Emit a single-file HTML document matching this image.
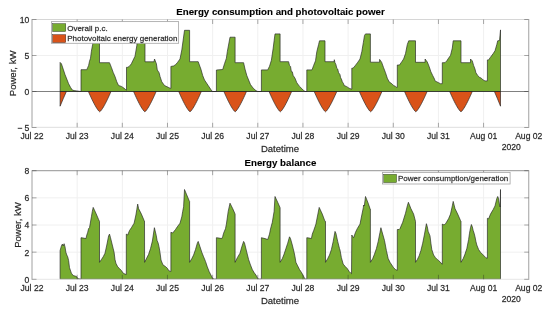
<!DOCTYPE html>
<html><head><meta charset="utf-8"><title>Energy plots</title>
<style>
html,body{margin:0;padding:0;background:#fff;width:550px;height:315px;overflow:hidden}
svg{display:block;filter:blur(0.3px)}
text{font-family:"Liberation Sans",Arial,sans-serif;fill:#262626;stroke:#262626;stroke-width:0.28px;stroke-opacity:0.7}
.tk{font-size:8.6px}
.lb{font-size:9.55px}
.ti{font-size:9.72px;font-weight:bold;fill:#000;stroke:#000;stroke-width:0.15px}
.lg{font-size:8.0px}
</style></head><body>
<svg width="550" height="315" viewBox="0 0 550 315">
<rect width="550" height="315" fill="#ffffff"/>
<text x="280.5" y="14.8" text-anchor="middle" class="ti">Energy consumption and photovoltaic power</text>
<text x="280.4" y="166.4" text-anchor="middle" class="ti">Energy balance</text>
<line x1="77.16" y1="19.5" x2="77.16" y2="127.3" stroke="#f0f0f0" stroke-width="1"/>
<line x1="122.32" y1="19.5" x2="122.32" y2="127.3" stroke="#f0f0f0" stroke-width="1"/>
<line x1="167.48" y1="19.5" x2="167.48" y2="127.3" stroke="#f0f0f0" stroke-width="1"/>
<line x1="212.64" y1="19.5" x2="212.64" y2="127.3" stroke="#f0f0f0" stroke-width="1"/>
<line x1="257.80" y1="19.5" x2="257.80" y2="127.3" stroke="#f0f0f0" stroke-width="1"/>
<line x1="302.95" y1="19.5" x2="302.95" y2="127.3" stroke="#f0f0f0" stroke-width="1"/>
<line x1="348.11" y1="19.5" x2="348.11" y2="127.3" stroke="#f0f0f0" stroke-width="1"/>
<line x1="393.27" y1="19.5" x2="393.27" y2="127.3" stroke="#f0f0f0" stroke-width="1"/>
<line x1="438.43" y1="19.5" x2="438.43" y2="127.3" stroke="#f0f0f0" stroke-width="1"/>
<line x1="483.59" y1="19.5" x2="483.59" y2="127.3" stroke="#f0f0f0" stroke-width="1"/>
<line x1="32.0" y1="91.50" x2="528.75" y2="91.50" stroke="#f0f0f0" stroke-width="1"/>
<line x1="32.0" y1="55.50" x2="528.75" y2="55.50" stroke="#f0f0f0" stroke-width="1"/>
<path d="M60.10,91.50 L60.10,62.40 L61.40,63.70 L63.20,69.10 L65.00,74.60 L66.80,79.10 L68.60,83.70 L70.50,87.30 L72.30,90.00 L74.10,90.60 L76.80,90.90 L80.50,91.50 L81.00,91.50 L81.00,69.70 L86.80,69.70 L87.70,67.50 L88.60,65.50 L89.50,61.20 L90.50,58.20 L91.40,51.20 L92.60,44.70 L93.50,33.20 L99.50,33.20 L99.50,62.70 L109.50,62.70 L111.40,67.40 L113.20,72.40 L115.00,76.50 L116.80,81.80 L118.60,85.50 L121.40,86.40 L124.10,88.20 L125.90,89.80 L126.50,90.20 L126.50,67.30 L127.70,67.30 L129.50,66.20 L131.40,63.70 L133.20,60.00 L135.00,56.20 L136.80,45.70 L137.70,35.20 L145.00,35.20 L145.00,61.80 L154.00,61.80 L154.50,59.00 L156.40,63.70 L157.30,70.00 L159.10,72.70 L160.00,76.40 L161.80,81.80 L164.50,85.50 L168.20,87.30 L170.00,88.20 L170.90,88.40 L170.90,66.40 L171.80,66.30 L173.60,65.90 L175.50,64.70 L177.30,62.70 L180.00,59.00 L181.80,49.90 L183.30,39.00 L184.50,30.30 L189.60,30.30 L189.60,61.70 L198.20,61.70 L200.90,69.10 L202.70,75.50 L204.50,80.00 L208.20,85.50 L211.80,90.90 L212.70,91.50 L216.40,91.50 L216.40,70.00 L222.70,69.50 L224.50,63.70 L225.50,60.80 L226.40,58.20 L227.30,51.70 L230.00,37.20 L235.10,37.20 L235.10,62.70 L243.60,62.70 L245.00,69.10 L246.80,75.50 L248.60,80.00 L250.50,84.60 L253.20,88.20 L255.90,90.60 L257.70,91.50 L261.40,91.50 L261.40,69.90 L267.70,69.90 L269.50,66.30 L271.40,60.20 L273.20,48.10 L274.10,40.80 L275.00,33.90 L280.10,33.90 L280.10,61.70 L288.60,61.70 L289.50,65.40 L290.50,66.40 L291.40,71.70 L292.30,71.80 L293.20,75.50 L295.00,78.20 L296.80,82.70 L299.50,86.40 L302.30,89.10 L304.10,90.90 L305.00,91.50 L306.80,91.50 L306.80,69.90 L312.00,69.90 L313.60,65.50 L315.50,60.80 L316.80,51.70 L318.60,44.50 L319.50,40.80 L325.00,40.80 L325.00,61.70 L334.10,61.70 L334.30,59.70 L335.00,62.70 L335.90,64.50 L336.80,68.20 L337.70,69.00 L338.60,72.70 L340.00,74.60 L340.50,77.30 L341.80,80.00 L342.30,81.80 L343.60,83.70 L344.10,85.50 L346.40,86.40 L349.10,88.20 L351.30,89.10 L351.80,89.10 L351.80,68.20 L353.00,68.20 L355.00,65.90 L357.80,62.20 L360.00,59.00 L361.80,51.70 L363.30,42.70 L364.50,35.40 L365.50,33.90 L370.40,33.90 L370.40,62.20 L379.60,62.20 L379.60,59.40 L381.60,62.20 L383.60,67.70 L385.50,72.70 L387.30,78.20 L389.10,81.80 L391.80,83.70 L393.60,85.50 L395.50,86.40 L396.70,87.30 L397.30,87.30 L397.30,65.00 L399.50,65.00 L401.80,61.70 L403.60,59.00 L405.50,53.60 L407.30,44.50 L408.70,40.80 L415.50,40.80 L415.50,62.30 L425.10,62.30 L425.10,59.00 L426.40,60.80 L427.30,62.00 L429.10,66.40 L430.90,71.80 L432.70,75.50 L434.50,79.10 L435.00,80.90 L436.80,81.80 L438.60,82.70 L440.50,83.70 L442.30,83.70 L442.30,62.70 L445.00,62.70 L446.80,60.80 L448.60,58.10 L450.50,55.40 L452.30,48.10 L453.20,40.80 L461.00,40.80 L461.00,62.70 L470.50,62.70 L470.50,59.00 L472.30,60.90 L473.60,65.40 L475.00,69.10 L475.90,72.70 L477.70,75.50 L479.50,77.30 L481.40,78.20 L483.20,80.00 L485.00,80.90 L487.40,80.90 L487.40,59.90 L488.60,59.90 L490.50,57.20 L493.20,53.60 L495.00,50.80 L496.80,44.50 L497.70,40.80 L499.50,40.50 L500.50,29.90 L500.50,91.50 Z" fill="#77ac30" stroke="#222222" stroke-width="0.65" stroke-linejoin="round"/>
<path d="M60.10,91.50 L60.10,106.20 L63.20,98.80 L66.40,91.50 Z" fill="#d95319" stroke="#222222" stroke-width="0.65" stroke-linejoin="round"/>
<path d="M88.40,91.50 L89.34,93.67 L90.28,95.78 L91.23,97.83 L92.17,99.82 L93.11,101.73 L94.05,103.56 L94.99,105.30 L95.93,106.93 L96.88,108.45 L97.82,109.82 L98.76,111.00 L99.70,111.80 L100.64,111.00 L101.58,109.82 L102.53,108.45 L103.47,106.93 L104.41,105.30 L105.35,103.56 L106.29,101.73 L107.23,99.82 L108.18,97.83 L109.12,95.78 L110.06,93.67 L111.00,91.50 Z" fill="#d95319" stroke="#222222" stroke-width="0.65" stroke-linejoin="round"/>
<path d="M133.56,91.50 L134.50,93.67 L135.44,95.78 L136.39,97.83 L137.33,99.82 L138.27,101.73 L139.21,103.56 L140.15,105.30 L141.09,106.93 L142.04,108.45 L142.98,109.82 L143.92,111.00 L144.86,111.80 L145.80,111.00 L146.74,109.82 L147.69,108.45 L148.63,106.93 L149.57,105.30 L150.51,103.56 L151.45,101.73 L152.39,99.82 L153.34,97.83 L154.28,95.78 L155.22,93.67 L156.16,91.50 Z" fill="#d95319" stroke="#222222" stroke-width="0.65" stroke-linejoin="round"/>
<path d="M178.72,91.50 L179.66,93.67 L180.60,95.78 L181.54,97.83 L182.49,99.82 L183.43,101.73 L184.37,103.56 L185.31,105.30 L186.25,106.93 L187.19,108.45 L188.14,109.82 L189.08,111.00 L190.02,111.80 L190.96,111.00 L191.90,109.82 L192.84,108.45 L193.79,106.93 L194.73,105.30 L195.67,103.56 L196.61,101.73 L197.55,99.82 L198.49,97.83 L199.44,95.78 L200.38,93.67 L201.32,91.50 Z" fill="#d95319" stroke="#222222" stroke-width="0.65" stroke-linejoin="round"/>
<path d="M223.88,91.50 L224.82,93.67 L225.76,95.78 L226.71,97.83 L227.65,99.82 L228.59,101.73 L229.53,103.56 L230.47,105.30 L231.41,106.93 L232.36,108.45 L233.30,109.82 L234.24,111.00 L235.18,111.80 L236.12,111.00 L237.06,109.82 L238.00,108.45 L238.95,106.93 L239.89,105.30 L240.83,103.56 L241.77,101.73 L242.71,99.82 L243.66,97.83 L244.60,95.78 L245.54,93.67 L246.48,91.50 Z" fill="#d95319" stroke="#222222" stroke-width="0.65" stroke-linejoin="round"/>
<path d="M269.04,91.50 L269.98,93.67 L270.92,95.78 L271.86,97.83 L272.81,99.82 L273.75,101.73 L274.69,103.56 L275.63,105.30 L276.57,106.93 L277.51,108.45 L278.46,109.82 L279.40,111.00 L280.34,111.80 L281.28,111.00 L282.22,109.82 L283.16,108.45 L284.11,106.93 L285.05,105.30 L285.99,103.56 L286.93,101.73 L287.87,99.82 L288.81,97.83 L289.76,95.78 L290.70,93.67 L291.64,91.50 Z" fill="#d95319" stroke="#222222" stroke-width="0.65" stroke-linejoin="round"/>
<path d="M314.20,91.50 L315.14,93.67 L316.08,95.78 L317.02,97.83 L317.97,99.82 L318.91,101.73 L319.85,103.56 L320.79,105.30 L321.73,106.93 L322.68,108.45 L323.62,109.82 L324.56,111.00 L325.50,111.80 L326.44,111.00 L327.38,109.82 L328.32,108.45 L329.27,106.93 L330.21,105.30 L331.15,103.56 L332.09,101.73 L333.03,99.82 L333.98,97.83 L334.92,95.78 L335.86,93.67 L336.80,91.50 Z" fill="#d95319" stroke="#222222" stroke-width="0.65" stroke-linejoin="round"/>
<path d="M359.36,91.50 L360.30,93.67 L361.24,95.78 L362.18,97.83 L363.13,99.82 L364.07,101.73 L365.01,103.56 L365.95,105.30 L366.89,106.93 L367.83,108.45 L368.78,109.82 L369.72,111.00 L370.66,111.80 L371.60,111.00 L372.54,109.82 L373.48,108.45 L374.43,106.93 L375.37,105.30 L376.31,103.56 L377.25,101.73 L378.19,99.82 L379.13,97.83 L380.08,95.78 L381.02,93.67 L381.96,91.50 Z" fill="#d95319" stroke="#222222" stroke-width="0.65" stroke-linejoin="round"/>
<path d="M404.52,91.50 L405.46,93.67 L406.40,95.78 L407.34,97.83 L408.29,99.82 L409.23,101.73 L410.17,103.56 L411.11,105.30 L412.05,106.93 L413.00,108.45 L413.94,109.82 L414.88,111.00 L415.82,111.80 L416.76,111.00 L417.70,109.82 L418.64,108.45 L419.59,106.93 L420.53,105.30 L421.47,103.56 L422.41,101.73 L423.35,99.82 L424.30,97.83 L425.24,95.78 L426.18,93.67 L427.12,91.50 Z" fill="#d95319" stroke="#222222" stroke-width="0.65" stroke-linejoin="round"/>
<path d="M449.68,91.50 L450.62,93.67 L451.56,95.78 L452.50,97.83 L453.45,99.82 L454.39,101.73 L455.33,103.56 L456.27,105.30 L457.21,106.93 L458.15,108.45 L459.10,109.82 L460.04,111.00 L460.98,111.80 L461.92,111.00 L462.86,109.82 L463.80,108.45 L464.75,106.93 L465.69,105.30 L466.63,103.56 L467.57,101.73 L468.51,99.82 L469.45,97.83 L470.40,95.78 L471.34,93.67 L472.28,91.50 Z" fill="#d95319" stroke="#222222" stroke-width="0.65" stroke-linejoin="round"/>
<path d="M494.40,91.50 L497.50,98.80 L500.50,106.20 L500.50,91.50 Z" fill="#d95319" stroke="#222222" stroke-width="0.65" stroke-linejoin="round"/>
<line x1="32.0" y1="91.5" x2="528.75" y2="91.5" stroke="#222222" stroke-width="0.55"/>
<line x1="32.0" y1="19.0" x2="32.0" y2="127.8" stroke="#a0a0a0" stroke-width="1"/>
<line x1="528.75" y1="19.0" x2="528.75" y2="127.8" stroke="#a0a0a0" stroke-width="1"/>
<line x1="32.0" y1="19.5" x2="528.75" y2="19.5" stroke="#d6d6d6" stroke-width="1"/>
<line x1="32.0" y1="127.3" x2="528.75" y2="127.3" stroke="#dedede" stroke-width="1"/>
<line x1="77.16" y1="127.3" x2="77.16" y2="122.8" stroke="#262626" stroke-opacity="0.42" stroke-width="0.9"/>
<line x1="77.16" y1="19.5" x2="77.16" y2="24.0" stroke="#262626" stroke-opacity="0.42" stroke-width="0.9"/>
<line x1="122.32" y1="127.3" x2="122.32" y2="122.8" stroke="#262626" stroke-opacity="0.42" stroke-width="0.9"/>
<line x1="122.32" y1="19.5" x2="122.32" y2="24.0" stroke="#262626" stroke-opacity="0.42" stroke-width="0.9"/>
<line x1="167.48" y1="127.3" x2="167.48" y2="122.8" stroke="#262626" stroke-opacity="0.42" stroke-width="0.9"/>
<line x1="167.48" y1="19.5" x2="167.48" y2="24.0" stroke="#262626" stroke-opacity="0.42" stroke-width="0.9"/>
<line x1="212.64" y1="127.3" x2="212.64" y2="122.8" stroke="#262626" stroke-opacity="0.42" stroke-width="0.9"/>
<line x1="212.64" y1="19.5" x2="212.64" y2="24.0" stroke="#262626" stroke-opacity="0.42" stroke-width="0.9"/>
<line x1="257.80" y1="127.3" x2="257.80" y2="122.8" stroke="#262626" stroke-opacity="0.42" stroke-width="0.9"/>
<line x1="257.80" y1="19.5" x2="257.80" y2="24.0" stroke="#262626" stroke-opacity="0.42" stroke-width="0.9"/>
<line x1="302.95" y1="127.3" x2="302.95" y2="122.8" stroke="#262626" stroke-opacity="0.42" stroke-width="0.9"/>
<line x1="302.95" y1="19.5" x2="302.95" y2="24.0" stroke="#262626" stroke-opacity="0.42" stroke-width="0.9"/>
<line x1="348.11" y1="127.3" x2="348.11" y2="122.8" stroke="#262626" stroke-opacity="0.42" stroke-width="0.9"/>
<line x1="348.11" y1="19.5" x2="348.11" y2="24.0" stroke="#262626" stroke-opacity="0.42" stroke-width="0.9"/>
<line x1="393.27" y1="127.3" x2="393.27" y2="122.8" stroke="#262626" stroke-opacity="0.42" stroke-width="0.9"/>
<line x1="393.27" y1="19.5" x2="393.27" y2="24.0" stroke="#262626" stroke-opacity="0.42" stroke-width="0.9"/>
<line x1="438.43" y1="127.3" x2="438.43" y2="122.8" stroke="#262626" stroke-opacity="0.42" stroke-width="0.9"/>
<line x1="438.43" y1="19.5" x2="438.43" y2="24.0" stroke="#262626" stroke-opacity="0.42" stroke-width="0.9"/>
<line x1="483.59" y1="127.3" x2="483.59" y2="122.8" stroke="#262626" stroke-opacity="0.42" stroke-width="0.9"/>
<line x1="483.59" y1="19.5" x2="483.59" y2="24.0" stroke="#262626" stroke-opacity="0.42" stroke-width="0.9"/>
<line x1="32.0" y1="127.50" x2="36.5" y2="127.50" stroke="#262626" stroke-opacity="0.42" stroke-width="0.9"/>
<line x1="528.75" y1="127.50" x2="524.25" y2="127.50" stroke="#262626" stroke-opacity="0.42" stroke-width="0.9"/>
<line x1="32.0" y1="91.50" x2="36.5" y2="91.50" stroke="#262626" stroke-opacity="0.42" stroke-width="0.9"/>
<line x1="528.75" y1="91.50" x2="524.25" y2="91.50" stroke="#262626" stroke-opacity="0.42" stroke-width="0.9"/>
<line x1="32.0" y1="55.50" x2="36.5" y2="55.50" stroke="#262626" stroke-opacity="0.42" stroke-width="0.9"/>
<line x1="528.75" y1="55.50" x2="524.25" y2="55.50" stroke="#262626" stroke-opacity="0.42" stroke-width="0.9"/>
<line x1="32.0" y1="19.50" x2="36.5" y2="19.50" stroke="#262626" stroke-opacity="0.42" stroke-width="0.9"/>
<line x1="528.75" y1="19.50" x2="524.25" y2="19.50" stroke="#262626" stroke-opacity="0.42" stroke-width="0.9"/>
<text x="29.2" y="131.00" text-anchor="end" class="tk">5</text>
<text x="22.4" y="131.00" text-anchor="end" class="tk">−</text>
<text x="29.2" y="95.20" text-anchor="end" class="tk">0</text>
<text x="29.2" y="59.00" text-anchor="end" class="tk">5</text>
<text x="29.2" y="23.00" text-anchor="end" class="tk">10</text>
<text x="32.00" y="139.20" text-anchor="middle" class="tk">Jul 22</text>
<text x="77.16" y="139.20" text-anchor="middle" class="tk">Jul 23</text>
<text x="122.32" y="139.20" text-anchor="middle" class="tk">Jul 24</text>
<text x="167.48" y="139.20" text-anchor="middle" class="tk">Jul 25</text>
<text x="212.64" y="139.20" text-anchor="middle" class="tk">Jul 26</text>
<text x="257.80" y="139.20" text-anchor="middle" class="tk">Jul 27</text>
<text x="302.95" y="139.20" text-anchor="middle" class="tk">Jul 28</text>
<text x="348.11" y="139.20" text-anchor="middle" class="tk">Jul 29</text>
<text x="393.27" y="139.20" text-anchor="middle" class="tk">Jul 30</text>
<text x="438.43" y="139.20" text-anchor="middle" class="tk">Jul 31</text>
<text x="483.59" y="139.20" text-anchor="middle" class="tk">Aug 01</text>
<text x="528.75" y="139.20" text-anchor="middle" class="tk">Aug 02</text>
<text x="511.3" y="150.20" text-anchor="middle" class="tk">2020</text>
<text x="280" y="151.90" text-anchor="middle" class="lb">Datetime</text>
<text x="15.6" y="73.40" text-anchor="middle" class="lb" transform="rotate(-90 15.6 73.40)">Power, kW</text>
<rect x="51.5" y="21.6" width="127.1" height="21.7" fill="#fff" stroke="#a8a8a8" stroke-width="0.85"/>
<rect x="52.6" y="23.6" width="13.2" height="8" fill="#77ac30" stroke="#222222" stroke-width="0.4"/>
<rect x="52.6" y="34.6" width="13.2" height="8" fill="#d95319" stroke="#222222" stroke-width="0.4"/>
<text x="67.2" y="31.3" class="lg">Overall p.c.</text>
<text x="67.2" y="41.3" class="lg">Photovoltaic energy generation</text>
<line x1="77.16" y1="170.7" x2="77.16" y2="279.3" stroke="#f0f0f0" stroke-width="1"/>
<line x1="122.32" y1="170.7" x2="122.32" y2="279.3" stroke="#f0f0f0" stroke-width="1"/>
<line x1="167.48" y1="170.7" x2="167.48" y2="279.3" stroke="#f0f0f0" stroke-width="1"/>
<line x1="212.64" y1="170.7" x2="212.64" y2="279.3" stroke="#f0f0f0" stroke-width="1"/>
<line x1="257.80" y1="170.7" x2="257.80" y2="279.3" stroke="#f0f0f0" stroke-width="1"/>
<line x1="302.95" y1="170.7" x2="302.95" y2="279.3" stroke="#f0f0f0" stroke-width="1"/>
<line x1="348.11" y1="170.7" x2="348.11" y2="279.3" stroke="#f0f0f0" stroke-width="1"/>
<line x1="393.27" y1="170.7" x2="393.27" y2="279.3" stroke="#f0f0f0" stroke-width="1"/>
<line x1="438.43" y1="170.7" x2="438.43" y2="279.3" stroke="#f0f0f0" stroke-width="1"/>
<line x1="483.59" y1="170.7" x2="483.59" y2="279.3" stroke="#f0f0f0" stroke-width="1"/>
<line x1="32.0" y1="252.15" x2="528.75" y2="252.15" stroke="#f0f0f0" stroke-width="1"/>
<line x1="32.0" y1="225.00" x2="528.75" y2="225.00" stroke="#f0f0f0" stroke-width="1"/>
<line x1="32.0" y1="197.85" x2="528.75" y2="197.85" stroke="#f0f0f0" stroke-width="1"/>
<path d="M60.10,279.20 L60.10,250.50 L61.40,245.90 L62.30,244.10 L63.20,246.00 L64.10,243.70 L65.00,246.80 L65.90,252.30 L66.80,255.00 L67.70,256.80 L68.60,260.50 L69.50,267.70 L71.40,273.20 L73.20,275.50 L75.90,276.30 L76.80,276.80 L77.70,278.60 L80.50,279.20 L81.00,279.20 L81.00,237.70 L83.20,238.00 L85.90,238.60 L86.80,235.00 L87.70,232.30 L88.60,228.60 L89.50,227.70 L91.40,216.80 L92.30,211.40 L93.20,207.40 L95.90,213.20 L98.60,219.50 L99.50,221.40 L99.50,262.30 L101.40,259.50 L103.20,256.80 L105.00,253.20 L106.80,245.00 L108.60,235.90 L109.50,234.10 L110.50,237.70 L112.30,245.00 L113.20,248.60 L114.10,252.30 L115.00,259.50 L115.90,263.20 L117.70,266.80 L119.50,268.60 L121.40,270.50 L123.20,273.20 L125.00,274.10 L126.30,274.50 L126.30,234.10 L127.70,235.00 L129.50,230.50 L131.40,227.70 L134.10,223.20 L135.90,215.00 L136.80,209.50 L137.70,204.10 L138.60,208.60 L141.40,214.10 L144.10,220.50 L144.50,221.00 L144.60,262.30 L146.70,258.10 L148.60,254.30 L150.50,248.60 L152.40,241.00 L153.60,233.00 L154.40,227.70 L156.20,235.20 L157.10,240.50 L158.10,242.90 L159.00,246.70 L160.00,252.40 L161.00,260.00 L162.90,264.80 L165.70,266.70 L167.60,268.60 L168.60,270.50 L170.50,271.40 L170.90,271.60 L170.90,232.30 L172.70,233.00 L175.50,229.50 L177.30,226.80 L180.00,223.20 L181.80,216.80 L182.70,211.40 L183.60,206.80 L184.50,189.50 L186.40,194.10 L189.10,200.50 L189.60,201.40 L189.60,262.30 L191.80,258.60 L193.60,255.00 L195.50,249.50 L197.30,243.20 L198.20,241.40 L200.00,246.80 L201.80,252.30 L203.60,256.80 L205.50,261.40 L207.30,266.80 L209.10,271.40 L210.90,275.00 L212.70,278.60 L214.50,279.20 L216.40,279.20 L216.40,237.70 L219.10,238.10 L221.80,238.60 L222.70,236.50 L223.60,233.20 L225.50,228.60 L226.40,224.10 L228.20,211.40 L230.00,203.20 L232.70,208.60 L235.10,214.10 L235.10,262.30 L237.30,257.70 L240.00,253.20 L241.80,246.80 L243.60,241.40 L244.50,243.00 L245.00,245.00 L246.80,252.30 L248.60,259.50 L250.50,265.00 L252.30,269.50 L254.10,272.60 L255.90,275.00 L257.40,277.70 L258.60,279.20 L261.40,279.20 L261.40,237.70 L265.00,238.60 L267.70,239.50 L268.60,236.80 L269.50,234.10 L270.50,229.00 L272.30,222.30 L274.10,211.40 L275.00,196.50 L277.70,202.30 L280.10,207.70 L280.10,262.30 L282.30,258.60 L284.10,254.10 L285.90,248.60 L287.70,243.20 L289.50,236.80 L290.50,238.60 L292.30,245.00 L293.20,248.60 L294.10,252.30 L295.00,256.80 L295.90,262.30 L297.70,265.90 L299.50,269.50 L301.40,272.30 L303.20,275.50 L305.00,279.20 L306.80,279.20 L306.80,237.70 L309.50,238.10 L311.40,238.60 L312.30,234.10 L313.70,230.50 L315.00,226.80 L315.90,224.10 L317.70,215.00 L319.20,207.40 L322.30,214.10 L325.00,221.40 L325.50,221.50 L325.50,262.30 L327.70,258.60 L329.50,255.00 L331.40,249.50 L333.20,241.40 L335.00,231.40 L335.90,233.20 L337.70,241.40 L339.50,248.60 L340.00,250.00 L341.40,257.70 L343.20,264.10 L345.50,266.80 L347.30,268.60 L349.10,271.40 L350.90,273.20 L351.50,273.70 L351.80,235.00 L352.70,236.50 L353.60,237.70 L355.50,232.30 L357.30,228.60 L360.00,224.10 L361.80,215.00 L363.30,207.70 L363.60,205.00 L364.30,206.00 L365.50,196.50 L368.20,203.20 L370.00,208.60 L370.40,209.00 L370.40,262.30 L372.70,258.60 L374.50,254.10 L376.40,248.60 L378.20,241.40 L380.00,232.30 L380.90,227.70 L382.70,234.10 L384.50,240.50 L386.40,250.50 L388.20,258.60 L390.00,262.30 L391.80,265.00 L393.60,267.70 L395.50,269.50 L396.70,270.10 L397.30,270.30 L397.30,229.50 L399.10,229.50 L400.00,228.60 L402.70,222.30 L405.50,213.20 L407.30,205.90 L408.40,202.30 L410.90,208.60 L413.60,214.10 L415.50,221.40 L415.50,262.30 L417.30,259.50 L419.10,255.90 L420.90,250.50 L422.70,243.20 L424.50,234.10 L426.40,223.70 L427.30,226.80 L428.20,231.40 L430.00,235.90 L430.90,243.20 L431.80,249.50 L433.60,255.00 L435.50,257.70 L437.30,259.50 L438.60,260.50 L440.50,262.30 L441.90,264.10 L442.30,264.20 L442.30,224.10 L444.10,225.00 L445.90,223.20 L448.60,218.60 L450.50,214.10 L452.30,205.90 L453.20,201.40 L455.00,208.60 L457.70,214.10 L460.50,220.50 L461.00,221.00 L461.00,262.30 L463.20,258.60 L465.00,254.10 L466.80,248.60 L468.60,239.50 L469.50,233.20 L470.50,227.70 L471.40,224.50 L472.30,226.80 L473.20,230.50 L474.10,233.20 L475.00,236.80 L475.90,241.40 L476.80,245.00 L478.60,249.50 L480.50,252.30 L482.30,254.10 L484.10,255.90 L485.90,257.70 L486.80,258.10 L487.40,258.20 L487.40,218.30 L488.60,218.80 L490.50,214.10 L493.20,209.50 L495.00,205.90 L496.80,198.60 L497.70,196.50 L498.60,198.60 L499.50,205.00 L500.20,207.00 L500.50,189.50 L500.50,279.20 Z" fill="#77ac30" stroke="#222222" stroke-width="0.65" stroke-linejoin="round"/>
<line x1="32.0" y1="170.2" x2="32.0" y2="279.8" stroke="#a0a0a0" stroke-width="1"/>
<line x1="528.75" y1="170.2" x2="528.75" y2="279.8" stroke="#a0a0a0" stroke-width="1"/>
<line x1="32.0" y1="170.7" x2="528.75" y2="170.7" stroke="#a8a8a8" stroke-width="1.3"/>
<line x1="32.0" y1="279.3" x2="528.75" y2="279.3" stroke="#e6e6e6" stroke-width="1"/>
<line x1="77.16" y1="279.3" x2="77.16" y2="274.8" stroke="#262626" stroke-opacity="0.42" stroke-width="0.9"/>
<line x1="77.16" y1="170.7" x2="77.16" y2="175.2" stroke="#262626" stroke-opacity="0.42" stroke-width="0.9"/>
<line x1="122.32" y1="279.3" x2="122.32" y2="274.8" stroke="#262626" stroke-opacity="0.42" stroke-width="0.9"/>
<line x1="122.32" y1="170.7" x2="122.32" y2="175.2" stroke="#262626" stroke-opacity="0.42" stroke-width="0.9"/>
<line x1="167.48" y1="279.3" x2="167.48" y2="274.8" stroke="#262626" stroke-opacity="0.42" stroke-width="0.9"/>
<line x1="167.48" y1="170.7" x2="167.48" y2="175.2" stroke="#262626" stroke-opacity="0.42" stroke-width="0.9"/>
<line x1="212.64" y1="279.3" x2="212.64" y2="274.8" stroke="#262626" stroke-opacity="0.42" stroke-width="0.9"/>
<line x1="212.64" y1="170.7" x2="212.64" y2="175.2" stroke="#262626" stroke-opacity="0.42" stroke-width="0.9"/>
<line x1="257.80" y1="279.3" x2="257.80" y2="274.8" stroke="#262626" stroke-opacity="0.42" stroke-width="0.9"/>
<line x1="257.80" y1="170.7" x2="257.80" y2="175.2" stroke="#262626" stroke-opacity="0.42" stroke-width="0.9"/>
<line x1="302.95" y1="279.3" x2="302.95" y2="274.8" stroke="#262626" stroke-opacity="0.42" stroke-width="0.9"/>
<line x1="302.95" y1="170.7" x2="302.95" y2="175.2" stroke="#262626" stroke-opacity="0.42" stroke-width="0.9"/>
<line x1="348.11" y1="279.3" x2="348.11" y2="274.8" stroke="#262626" stroke-opacity="0.42" stroke-width="0.9"/>
<line x1="348.11" y1="170.7" x2="348.11" y2="175.2" stroke="#262626" stroke-opacity="0.42" stroke-width="0.9"/>
<line x1="393.27" y1="279.3" x2="393.27" y2="274.8" stroke="#262626" stroke-opacity="0.42" stroke-width="0.9"/>
<line x1="393.27" y1="170.7" x2="393.27" y2="175.2" stroke="#262626" stroke-opacity="0.42" stroke-width="0.9"/>
<line x1="438.43" y1="279.3" x2="438.43" y2="274.8" stroke="#262626" stroke-opacity="0.42" stroke-width="0.9"/>
<line x1="438.43" y1="170.7" x2="438.43" y2="175.2" stroke="#262626" stroke-opacity="0.42" stroke-width="0.9"/>
<line x1="483.59" y1="279.3" x2="483.59" y2="274.8" stroke="#262626" stroke-opacity="0.42" stroke-width="0.9"/>
<line x1="483.59" y1="170.7" x2="483.59" y2="175.2" stroke="#262626" stroke-opacity="0.42" stroke-width="0.9"/>
<line x1="32.0" y1="279.30" x2="36.5" y2="279.30" stroke="#262626" stroke-opacity="0.42" stroke-width="0.9"/>
<line x1="528.75" y1="279.30" x2="524.25" y2="279.30" stroke="#262626" stroke-opacity="0.42" stroke-width="0.9"/>
<line x1="32.0" y1="252.15" x2="36.5" y2="252.15" stroke="#262626" stroke-opacity="0.42" stroke-width="0.9"/>
<line x1="528.75" y1="252.15" x2="524.25" y2="252.15" stroke="#262626" stroke-opacity="0.42" stroke-width="0.9"/>
<line x1="32.0" y1="225.00" x2="36.5" y2="225.00" stroke="#262626" stroke-opacity="0.42" stroke-width="0.9"/>
<line x1="528.75" y1="225.00" x2="524.25" y2="225.00" stroke="#262626" stroke-opacity="0.42" stroke-width="0.9"/>
<line x1="32.0" y1="197.85" x2="36.5" y2="197.85" stroke="#262626" stroke-opacity="0.42" stroke-width="0.9"/>
<line x1="528.75" y1="197.85" x2="524.25" y2="197.85" stroke="#262626" stroke-opacity="0.42" stroke-width="0.9"/>
<line x1="32.0" y1="170.70" x2="36.5" y2="170.70" stroke="#262626" stroke-opacity="0.42" stroke-width="0.9"/>
<line x1="528.75" y1="170.70" x2="524.25" y2="170.70" stroke="#262626" stroke-opacity="0.42" stroke-width="0.9"/>
<text x="29.2" y="282.80" text-anchor="end" class="tk">0</text>
<text x="29.2" y="255.50" text-anchor="end" class="tk">2</text>
<text x="29.2" y="228.40" text-anchor="end" class="tk">4</text>
<text x="29.2" y="201.00" text-anchor="end" class="tk">6</text>
<text x="29.2" y="174.00" text-anchor="end" class="tk">8</text>
<text x="32.00" y="291.20" text-anchor="middle" class="tk">Jul 22</text>
<text x="77.16" y="291.20" text-anchor="middle" class="tk">Jul 23</text>
<text x="122.32" y="291.20" text-anchor="middle" class="tk">Jul 24</text>
<text x="167.48" y="291.20" text-anchor="middle" class="tk">Jul 25</text>
<text x="212.64" y="291.20" text-anchor="middle" class="tk">Jul 26</text>
<text x="257.80" y="291.20" text-anchor="middle" class="tk">Jul 27</text>
<text x="302.95" y="291.20" text-anchor="middle" class="tk">Jul 28</text>
<text x="348.11" y="291.20" text-anchor="middle" class="tk">Jul 29</text>
<text x="393.27" y="291.20" text-anchor="middle" class="tk">Jul 30</text>
<text x="438.43" y="291.20" text-anchor="middle" class="tk">Jul 31</text>
<text x="483.59" y="291.20" text-anchor="middle" class="tk">Aug 01</text>
<text x="528.75" y="291.20" text-anchor="middle" class="tk">Aug 02</text>
<text x="511.3" y="302.20" text-anchor="middle" class="tk">2020</text>
<text x="280" y="303.90" text-anchor="middle" class="lb">Datetime</text>
<text x="21.0" y="225.00" text-anchor="middle" class="lb" transform="rotate(-90 21.0 225.00)">Power, kW</text>
<rect x="382.5" y="172.4" width="127.6" height="11.6" fill="#fff" stroke="#a8a8a8" stroke-width="0.85"/>
<rect x="383.7" y="174.3" width="12.9" height="8.3" fill="#77ac30" stroke="#222222" stroke-width="0.4"/>
<text x="398.0" y="181.1" class="lg">Power consumption/generation</text>
</svg>
</body></html>
